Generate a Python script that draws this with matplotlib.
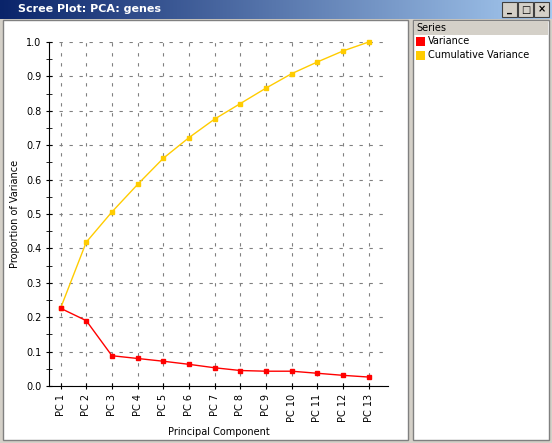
import numpy as np
from matplotlib import pyplot as plt
from matplotlib.patches import Rectangle
from matplotlib.colors import LinearSegmentedColormap

components = ['PC %d' % i for i in range(1, 14)]
variance = [0.226, 0.190, 0.088, 0.080, 0.072, 0.063, 0.053, 0.045, 0.043, 0.043, 0.037, 0.031, 0.026]
cumulative = [0.226, 0.418, 0.506, 0.586, 0.662, 0.722, 0.776, 0.821, 0.866, 0.908, 0.942, 0.974, 1.0]

W, H = 552, 443
fig = plt.figure(figsize=(W / 100, H / 100), dpi=100)
fig.patch.set_facecolor('#d4d0c8')

def px(x, y, w, h):
    return [x / W, 1 - (y + h) / H, w / W, h / H]

# title bar gradient
bar = fig.add_axes(px(0, 0, W, 19))
cmap = LinearSegmentedColormap.from_list('tb', ['#0a246a', '#a6caf0'])
bar.imshow(np.linspace(0, 1, 256).reshape(1, -1), cmap=cmap, aspect='auto', extent=[0, 1, 0, 1])
bar.set_axis_off()
bar.text(18 / W, 0.5, 'Scree Plot: PCA: genes', color='white', fontweight='bold', fontsize=8, va='center')
for i, s in enumerate(['_', '□', '×']):
    bx = 1 - (16 * (3 - i) + 2) / W
    bar.add_patch(Rectangle((bx, 0.12), 15 / W, 0.76, facecolor='#d4d0c8', edgecolor='#404040', lw=0.8))
    bar.text(bx + 7.5 / W, 0.5, s, ha='center', va='center', fontsize=7, fontweight='bold')

# white panels
fig.patches.append(Rectangle((3 / W, 1 - 440 / H), 405 / W, 420 / H, transform=fig.transFigure,
                             facecolor='white', edgecolor='#808080', lw=1))
fig.patches.append(Rectangle((413 / W, 1 - 440 / H), 136 / W, 420 / H, transform=fig.transFigure,
                             facecolor='white', edgecolor='#808080', lw=1))
fig.patches.append(Rectangle((414 / W, 1 - 35 / H), 134 / W, 14 / H, transform=fig.transFigure,
                             facecolor='#d4d0c8', edgecolor='none'))
fig.text(416 / W, 1 - 28 / H, 'Series', fontsize=7, va='center')
for k, (lab, c) in enumerate([('Variance', '#ff0000'), ('Cumulative Variance', '#ffcc00')]):
    yy = 41 + 14 * k
    fig.patches.append(Rectangle((416 / W, 1 - (yy + 5) / H), 9 / W, 9 / H, transform=fig.transFigure,
                                 facecolor=c, edgecolor='none'))
    fig.text(428 / W, 1 - yy / H, lab, fontsize=7, va='center')

ax = fig.add_axes(px(49, 42, 339, 344))
ax.set_zorder(3)
ax.patch.set_alpha(0)
x = np.arange(len(components))
ax.plot(x, cumulative, color='#ffcc00', marker='s', ms=3, lw=1, clip_on=False)
ax.plot(x, variance, color='#ff0000', marker='s', ms=3, lw=1, clip_on=False)
ax.set_xlim(-0.45, 12.45 + 0.3)
ax.set_ylim(0, 1.0)
ax.set_yticks(np.arange(0, 1.01, 0.1))
ax.set_yticks(np.arange(0.05, 1.0, 0.1), minor=True)
ax.set_yticklabels(['%.1f' % v for v in np.arange(0, 1.01, 0.1)], fontsize=7)
ax.set_xticks(x)
ax.set_xticklabels(components, rotation=90, fontsize=7)
ax.grid(True, color='#808080', ls=(0, (3, 6)), lw=0.8)
for s in ['top', 'right']:
    ax.spines[s].set_visible(False)
ax.tick_params(which='both', length=4, direction='inout')
ax.set_xlabel('Principal Component', fontsize=7)
ax.set_ylabel('Proportion of Variance', fontsize=7)

fig.savefig('out.png', dpi=100, facecolor=fig.get_facecolor())
